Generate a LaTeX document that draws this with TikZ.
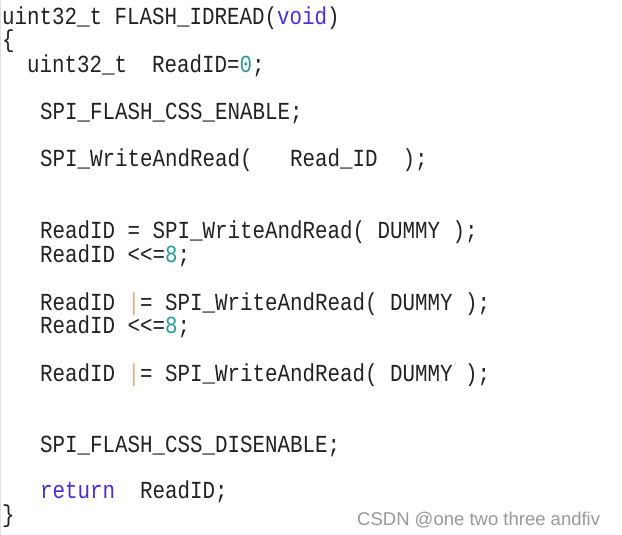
\documentclass[tikz,border=0pt]{standalone}
\usepackage{fontspec}
\newfontfamily\codefont[FakeStretch=0.85]{Liberation Mono}
\setsansfont{Liberation Sans}
\definecolor{txt}{HTML}{222222}
\definecolor{kw}{HTML}{4A2FD6}
\definecolor{num}{HTML}{2A9A9A}
\definecolor{bar}{HTML}{E8A878}
\tikzset{code/.style={anchor=base west,inner sep=0pt,text=txt,font=\codefont\fontsize{24.5}{26}\selectfont},
wm/.style={anchor=base west,inner sep=0pt,text=gray!80,font=\sffamily\fontsize{18.5}{20}\selectfont}}
\begin{document}
\begin{tikzpicture}[x=1pt,y=-1pt]
\useasboundingbox[fill=white] (0,0) rectangle (622,535);
\draw[gray!25] (0.5,0) -- (0.5,535);
\node[code] (l1) at (2,25) {uint32\_t FLASH\_IDREAD(\textcolor{kw}{void})};
\node[code] (l2) at (2,48) {\{};
\node[code] (l3) at (27,73) {uint32\_t\ \ ReadID=\textcolor{num}{0};};
\node[code] (l4) at (40,120) {SPI\_FLASH\_CSS\_ENABLE;};
\node[code] (l5) at (40,167) {SPI\_WriteAndRead(\ \ \ Read\_ID\ \ );};
\node[code] (l6) at (40,238) {ReadID = SPI\_WriteAndRead( DUMMY );};
\node[code] (l7) at (40,262) {ReadID <<=\textcolor{num}{8};};
\node[code] (l8) at (40,310) {ReadID \textcolor{bar}{|}= SPI\_WriteAndRead( DUMMY );};
\node[code] (l9) at (40,333) {ReadID <<=\textcolor{num}{8};};
\node[code] (l10) at (40,381) {ReadID \textcolor{bar}{|}= SPI\_WriteAndRead( DUMMY );};
\node[code] (l11) at (40,452) {SPI\_FLASH\_CSS\_DISENABLE;};
\node[code] (l12) at (40,498) {\textcolor{kw}{return}\ \ ReadID;};
\node[code] (l13) at (2,522) {\}};
\node[wm] (w) at (357,525) {CSDN @one two three andfiv};
\end{tikzpicture}
\end{document}
